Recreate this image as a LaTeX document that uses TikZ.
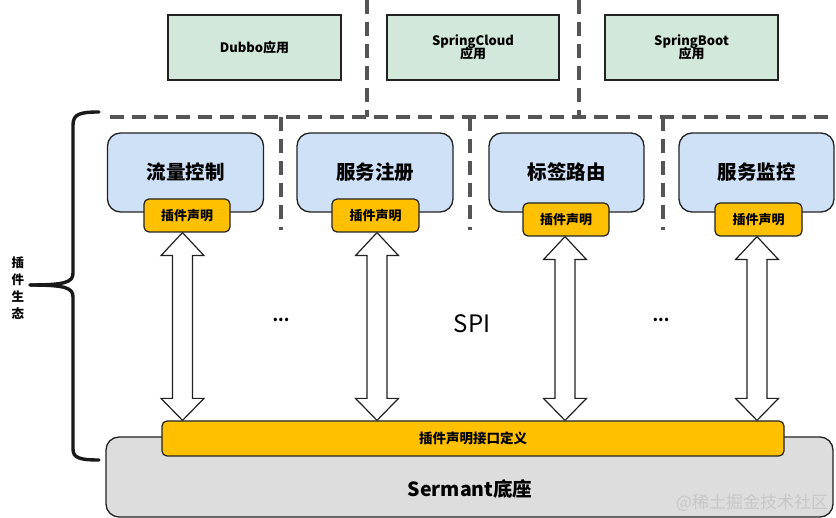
\documentclass[tikz,border=0pt]{standalone}
\usepackage{fontspec}
\setmainfont{Noto Sans CJK SC}
\usetikzlibrary{calc}
\definecolor{appgreen}{RGB}{210,232,218}
\definecolor{modblue}{RGB}{206,225,246}
\definecolor{plugy}{RGB}{255,192,0}
\definecolor{basegray}{RGB}{221,221,221}
\definecolor{dashgray}{RGB}{85,85,85}
\definecolor{edge}{RGB}{34,34,34}
\tikzset{
  appbox/.style={draw=edge, line width=1.4pt, fill=appgreen, minimum width=173pt, minimum height=65pt, align=center, font=\fontsize{13}{14}\selectfont\bfseries, inner sep=0pt},
  modbox/.style={draw=edge, line width=1.3pt, fill=modblue, rounded corners=13pt, minimum width=156pt, minimum height=79pt, inner sep=0pt},
  modtitle/.style={font=\fontsize{19.5}{21}\selectfont\bfseries, inner sep=0pt},
  plugbox/.style={draw=edge, line width=1.2pt, fill=plugy, rounded corners=5pt, minimum width=86pt, minimum height=33pt, font=\fontsize{13}{14}\selectfont\bfseries, inner sep=0pt},
  sepline/.style={draw=dashgray, line width=3.6pt, dash pattern=on 14pt off 8pt},
  hollow/.style={draw=edge, line width=1.2pt, fill=white, line join=miter},
  bracepath/.style={draw=black!90, line width=3.4pt, line cap=round},
}
\begin{document}
\begin{tikzpicture}[x=1pt,y=-1pt]
\useasboundingbox (0,0) rectangle (836,518);
% dashed separators
\draw[sepline] (367,0) -- (367,117);
\draw[sepline] (579,0) -- (579,117);
\draw[sepline] (110,117) -- (828,117);
\draw[sepline] (281,117) -- (281,230);
\draw[sepline] (470,117) -- (470,230);
\draw[sepline] (663,117) -- (663,230);
% application boxes
\node[appbox] (dubbo) at (254.5,47.5) {Dubbo应用};
\node[appbox, minimum width=172pt] (scloud) at (473,47.5) {SpringCloud\\[-2pt]应用};
\node[appbox] (sboot) at (691.5,47.5) {SpringBoot\\[-2pt]应用};
% base
\node[draw=edge, line width=1.3pt, fill=basegray, rounded corners=13pt, minimum width=727pt, minimum height=80pt, inner sep=0pt] (base) at (469.5,477) {};
\node[font=\fontsize{19.5}{21}\selectfont\bfseries, inner sep=0pt] (basetxt) at (470,489) {Sermant底座};
\node[font=\fontsize{17}{18}\selectfont, text=black!22, inner sep=0pt] (wm) at (752,503) {@稀土掘金技术社区};
\node[plugbox, minimum width=622pt, minimum height=35pt, font=\fontsize{13.5}{14}\selectfont\bfseries] (bar) at (473,438.5) {插件声明接口定义};
% module boxes
\node[modbox] (m1) at (185.5,172.5) {};
\node[modbox] (m2) at (375,172.5) {};
\node[modbox, minimum width=155pt] (m3) at (566.5,172.5) {};
\node[modbox, minimum width=155pt] (m4) at (756.5,172.5) {};
\node[modtitle] (t1) at (185.5,172) {流量控制};
\node[modtitle] (t2) at (375,172) {服务注册};
\node[modtitle] (t3) at (566.5,172) {标签路由};
\node[modtitle] (t4) at (756.5,172) {服务监控};
\node[plugbox] (p1) at (187,215.5) {插件声明};
\node[plugbox, minimum width=87pt] (p2) at (375.5,215.5) {插件声明};
\node[plugbox] (p3) at (566,219.5) {插件声明};
\node[plugbox, minimum width=87pt] (p4) at (758.5,219.5) {插件声明};
% double arrows
\foreach \p/\dx in {p1/-4.5,p2/1.5,p3/-1,p4/-1.5}{
  \coordinate (T\p) at ($(\p.south)+(\dx,0)$);
  \coordinate (B\p) at (T\p |- bar.north);
  \draw[hollow] (T\p) -- ++(21.5,23) -- ++(-11.5,0) -- ($(B\p)+(10,-22)$) -- ++(11.5,0) -- (B\p)
     -- ++(-21.5,-22) -- ++(11.5,0) -- ($(T\p)+(-10,23)$) -- ++(-11.5,0) -- cycle;
}
% middle labels
\node[font=\fontsize{16}{16}\selectfont\bfseries] (dots1) at (281,320) {...};
\node[font=\fontsize{16}{16}\selectfont\bfseries] (dots2) at (661,320) {...};
\node[font=\fontsize{24}{24}\selectfont, inner sep=0pt] (spi) at (472,324) {SPI};
% brace
\draw[bracepath] (99,112) .. controls (80,112) and (73,114) .. (73,125) -- (73,273) .. controls (73,282) and (66,285) .. (30,285);
\draw[bracepath] (30,285) .. controls (66,285) and (73,288) .. (73,297) -- (73,449) .. controls (73,458) and (80,460) .. (99,460);
\node[font=\fontsize{12.5}{17}\selectfont\bfseries, align=center, inner sep=0pt] (eco) at (18,288) {插\\件\\生\\态};
\end{tikzpicture}
\end{document}
